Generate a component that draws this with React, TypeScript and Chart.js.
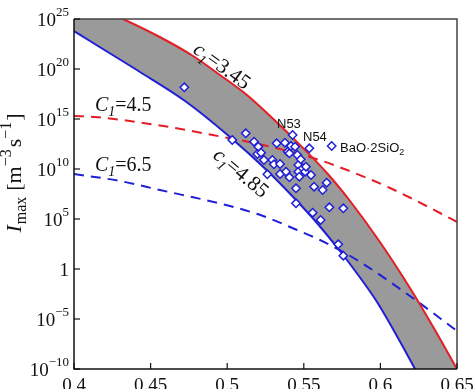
import React, { useEffect, useRef } from 'react';
import { Chart, registerables } from 'chart.js';

Chart.register(...registerables);

const RED = '#e41e26';
const BLUE = '#1f1fd6';
const GRAY = '#9a9a9a';
const SERIF = '"Liberation Serif", "Times New Roman", serif';
const SANS = '"Liberation Sans", Arial, sans-serif';

// c1 = 3.45 (red solid), exponents of I_max
const redSolidX = [0.4, 0.432, 0.456, 0.4777, 0.4953, 0.5129, 0.5266, 0.541, 0.5651, 0.5802, 0.5997, 0.6193, 0.6356, 0.65];
const redSolidExp = [27.1, 25, 23.2, 21.3, 19.4, 17.4, 15.5, 13.4, 9.6, 6.8, 2.7, -1.9, -6.1, -10];

// c1 = 4.85 (blue solid)
const blueSolidX = [0.4, 0.4104, 0.4431, 0.4725, 0.5018, 0.526, 0.5443, 0.5586, 0.5736, 0.5821, 0.5978, 0.6226, 0.635, 0.65];
const blueSolidExp = [23.8, 22.8, 19.7, 16.8, 13.2, 9.85, 7.0, 4.6, 1.8, 0.1, -3.3, -10, -13.6, -18];

// C1 = 4.5 (red dashed)
const redDashX = [0.4, 0.4137, 0.4542, 0.4973, 0.5234, 0.556, 0.5782, 0.6063, 0.6389, 0.65];
const redDashExp = [15.3, 15.2, 14.4, 13.2, 12.4, 11.1, 9.9, 8.1, 5.6, 4.7];

// C1 = 6.5 (blue dashed)
const blueDashX = [0.4, 0.43, 0.4561, 0.5018, 0.5234, 0.5456, 0.5606, 0.5847, 0.6193, 0.65];
const blueDashExp = [9.5, 8.8, 7.9, 6.3, 5.3, 3.9, 2.9, 0.9, -2.7, -6.2];

// measured glasses
const pointX = [0.472, 0.5033, 0.5121, 0.5175, 0.5203, 0.5197, 0.5221, 0.524, 0.5262, 0.5295, 0.5305, 0.5345, 0.5323, 0.5345, 0.5377, 0.5384, 0.5395, 0.5406, 0.5406, 0.5416, 0.5427, 0.5443, 0.5449, 0.5449, 0.5458, 0.5464, 0.5464, 0.5471, 0.548, 0.5493, 0.5508, 0.5514, 0.5536, 0.5547, 0.5558, 0.5567, 0.561, 0.5623, 0.5649, 0.5667, 0.5682, 0.5725, 0.5758, 0.5758];
const pointExp = [18.17, 12.9, 13.57, 12.73, 12.23, 11.5, 11.63, 10.9, 9.47, 10.9, 10.47, 10.5, 12.57, 9.5, 12.63, 9.73, 11.73, 11.57, 9.17, 12.3, 13.4, 12.23, 8.07, 6.57, 11.4, 10.4, 9.73, 9.23, 10.97, 10.07, 9.73, 10.23, 12.07, 9.4, 5.63, 8.23, 4.9, 7.9, 8.63, 6.17, 12.3, 2.47, 6.07, 1.33];

const xTicks = [0.4, 0.45, 0.5, 0.55, 0.6, 0.65];
const xTickLabels = ['0.4', '0.45', '0.5', '0.55', '0.6', '0.65'];
const yTickExps = [-10, -5, 0, 5, 10, 15, 20, 25];

const toXY = (xs: number[], es: number[]) => xs.map((x, i) => ({ x, y: Math.pow(10, es[i]) }));

type Seg = { t: string; f: string; dy?: number; gap?: number };
function richWidth(ctx: CanvasRenderingContext2D, segs: Seg[]) {
  let w = 0;
  for (const s of segs) { ctx.font = s.f; w += ctx.measureText(s.t).width + (s.gap || 0); }
  return w;
}
function drawRich(ctx: CanvasRenderingContext2D, segs: Seg[], x: number, y: number) {
  let cx = x;
  for (const s of segs) {
    ctx.font = s.f;
    ctx.fillText(s.t, cx, y + (s.dy || 0));
    cx += ctx.measureText(s.t).width + (s.gap || 0);
  }
}

const decor = {
  id: 'decor',
  afterDraw(chart: any) {
    const ctx: CanvasRenderingContext2D = chart.ctx;
    const { left, right, top, bottom } = chart.chartArea;
    const xs = chart.scales.x;
    const ys = chart.scales.y;
    ctx.save();
    // frame
    ctx.lineWidth = 1.5;
    ctx.strokeStyle = '#444';
    ctx.beginPath();
    ctx.moveTo(left, top); ctx.lineTo(right, top); ctx.lineTo(right, bottom);
    ctx.stroke();
    ctx.strokeStyle = '#111';
    ctx.beginPath();
    ctx.moveTo(left, top); ctx.lineTo(left, bottom); ctx.lineTo(right, bottom);
    ctx.stroke();
    // ticks
    ctx.lineWidth = 1.2;
    ctx.fillStyle = '#111';
    ctx.textBaseline = 'alphabetic';
    for (const e of yTickExps) {
      const y = ys.getPixelForValue(Math.pow(10, e));
      ctx.beginPath(); ctx.moveTo(left, y); ctx.lineTo(left + 6, y); ctx.stroke();
      const segs: Seg[] = e === 0
        ? [{ t: '1', f: `19px ${SERIF}` }]
        : [{ t: '10', f: `19px ${SERIF}` }, { t: String(e).replace('-', '\u2212'), f: `13px ${SERIF}`, dy: -10 }];
      const w = richWidth(ctx, segs);
      drawRich(ctx, segs, 69 - w, y + 7);
    }
    xTicks.forEach((v, i) => {
      const x = xs.getPixelForValue(v);
      ctx.beginPath(); ctx.moveTo(x, bottom); ctx.lineTo(x, bottom - 6); ctx.stroke();
      ctx.font = `19px ${SERIF}`;
      ctx.textAlign = 'center';
      ctx.fillText(xTickLabels[i], x, bottom + 22);
      ctx.textAlign = 'left';
    });
    // y-axis title
    const title: Seg[] = [
      { t: 'I', f: `italic 22px ${SERIF}`, gap: 1 },
      { t: 'max', f: `16px ${SERIF}`, dy: 5, gap: 6 },
      { t: '[m', f: `22px ${SERIF}` },
      { t: '\u22123', f: `16px ${SERIF}`, dy: -10, gap: 2 },
      { t: 's', f: `22px ${SERIF}` },
      { t: '\u22121', f: `16px ${SERIF}`, dy: -10, gap: 1 },
      { t: ']', f: `22px ${SERIF}` },
    ];
    ctx.save();
    ctx.translate(21, 173);
    ctx.rotate(-Math.PI / 2);
    drawRich(ctx, title, -richWidth(ctx, title) / 2, 0);
    ctx.restore();
    // curve labels
    const lab = (c: string, val: string, size: number): Seg[] => [
      { t: c, f: `italic ${size}px ${SERIF}` },
      { t: '1', f: `italic ${Math.round(size * 0.68)}px ${SERIF}`, dy: 5 },
      { t: val, f: `${size}px ${SERIF}` },
    ];
    drawRich(ctx, lab('C', '=4.5', 20), 95, 111);
    drawRich(ctx, lab('C', '=6.5', 20), 95, 171);
    ctx.save();
    ctx.translate(192, 52);
    ctx.rotate((36 * Math.PI) / 180);
    drawRich(ctx, lab('c', '=3.45', 21), 0, 0);
    ctx.restore();
    ctx.save();
    ctx.translate(212, 157);
    ctx.rotate((40 * Math.PI) / 180);
    drawRich(ctx, lab('c', '=4.85', 21), 0, 0);
    ctx.restore();
    // sample labels
    ctx.fillStyle = '#111';
    drawRich(ctx, [{ t: 'N53', f: `13px ${SANS}` }], 277, 128);
    drawRich(ctx, [{ t: 'N54', f: `13px ${SANS}` }], 303, 141);
    drawRich(ctx, [{ t: 'BaO\u00b72SiO', f: `13px ${SANS}` }, { t: '2', f: `9px ${SANS}`, dy: 3 }], 340, 152);
    ctx.restore();
  },
};

export default function App() {
  const ref = useRef<HTMLCanvasElement>(null);
  useEffect(() => {
    document.body.style.margin = '0';
    const lineBase = { pointRadius: 0, borderWidth: 2, cubicInterpolationMode: 'monotone' as const, order: 1 };
    const chart = new Chart(ref.current as HTMLCanvasElement, {
      type: 'line',
      data: {
        datasets: [
          { ...lineBase, data: toXY(redSolidX, redSolidExp), borderColor: RED, fill: { target: 1, above: GRAY, below: GRAY } },
          { ...lineBase, data: toXY(blueSolidX, blueSolidExp), borderColor: BLUE, fill: false },
          { ...lineBase, data: toXY(redDashX, redDashExp), borderColor: RED, borderDash: [10, 7], fill: false },
          { ...lineBase, data: toXY(blueDashX, blueDashExp), borderColor: BLUE, borderDash: [10, 7], fill: false },
          {
            data: toXY(pointX, pointExp), showLine: false, order: 0,
            pointStyle: 'rectRot', pointRadius: 4.2, pointBorderWidth: 1.5,
            pointBackgroundColor: '#ffffff', pointBorderColor: BLUE, borderColor: BLUE, fill: false,
          },
        ],
      },
      options: {
        responsive: false,
        animation: false,
        devicePixelRatio: 1,
        events: [],
        layout: { padding: { top: 19, right: 17, left: 0, bottom: 0 } },
        plugins: { legend: { display: false }, tooltip: { enabled: false }, filler: { drawTime: 'beforeDatasetsDraw' } },
        scales: {
          x: {
            type: 'linear', min: 0.4, max: 0.65,
            ticks: { display: false }, grid: { display: false }, border: { display: false },
            afterFit: (s: any) => { s.height = 20; },
          },
          y: {
            type: 'logarithmic', min: 1e-10, max: 1e25,
            ticks: { display: false }, grid: { display: false }, border: { display: false },
            afterFit: (s: any) => { s.width = 74; },
          },
        },
      } as any,
      plugins: [decor],
    });
    return () => chart.destroy();
  }, []);
  return <canvas ref={ref} width={474} height={389} style={{ display: 'block' }} />;
}
